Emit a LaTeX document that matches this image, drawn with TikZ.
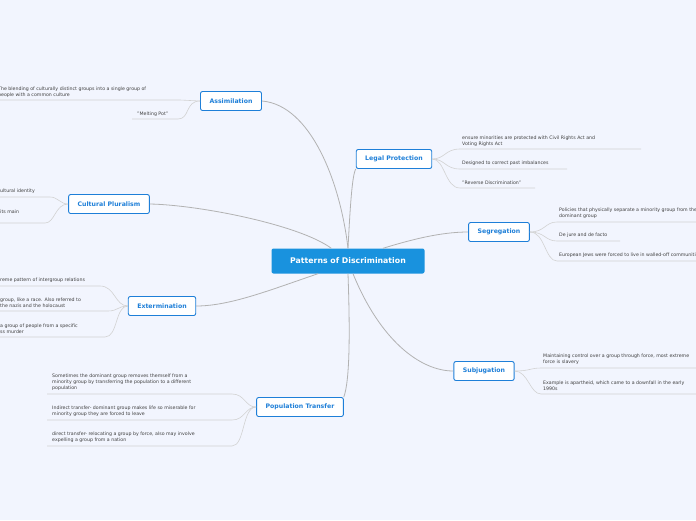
\documentclass[tikz,border=0pt]{standalone}
\usepackage{fontspec}
\setmainfont{DejaVu Sans}
\begin{document}
\begin{tikzpicture}[x=1pt,y=-1pt,
  mainbox/.style={draw=blue1,fill=white,rounded corners=2pt,line width=0.9pt,text=blue1,font=\fontsize{6.2}{7}\selectfont\bfseries,minimum height=19pt,inner xsep=9pt},
  leaf/.style={anchor=south west,inner sep=0pt,text=black!75,font=\fontsize{4.7}{6.4}\selectfont,align=left},
  con/.style={draw=gray!60,line width=0.8pt},
  br/.style={draw=gray!35,line width=0.6pt}]
\definecolor{blue1}{HTML}{1E7FD8}
\definecolor{bg}{HTML}{F2F5FE}
\fill[bg] (0,0) rectangle (696,520);
\useasboundingbox (0,0) rectangle (696,520);
\node[fill=blue1!85!cyan,rounded corners=2pt,text=white,font=\fontsize{7.8}{9}\selectfont\bfseries,minimum width=153pt,minimum height=25pt] (c) at (348,261) {Patterns of Discrimination};
\node[mainbox] (as) at (231,101) {Assimilation};
\node[mainbox] (lp) at (394,159) {Legal Protection};
\node[mainbox] (cp) at (109,204) {Cultural Pluralism};
\node[mainbox] (sg) at (499,232) {Segregation};
\node[mainbox] (ex) at (162,306) {Extermination};
\node[mainbox] (sj) at (484,371) {Subjugation};
\node[mainbox] (pt) at (300,407) {Population Transfer};
\draw[con] (c.north) .. controls (340,180) and (310,105) .. (as.east);
\draw[con] (c.north) .. controls (350,210) and (352,175) .. (lp.south west);
\draw[con] (c.north west) ++(60,0) .. controls (300,225) and (200,205) .. (cp.east);
\draw[con] (c.north) ++(35,0) .. controls (410,240) and (440,232) .. (sg.west);
\draw[con] (c.south) ++(-30,0) .. controls (270,290) and (230,306) .. (ex.east);
\draw[con] (c.south) ++(5,0) .. controls (380,340) and (420,371) .. (sj.west);
\draw[con] (c.south) .. controls (350,330) and (350,380) .. (pt.north east);
% Assimilation
\coordinate (a1) at (0,100); \coordinate (a2) at (132,119);
\draw[br] (as.west) .. controls (190,101) .. (180,100) -- (a1);
\draw[br] (as.west) .. controls (185,101) and (190,119) .. (178,119) -- (a2);
\node[leaf] (a1t) at (-2,98) {The blending of culturally distinct groups into a single group of\\people with a common culture};
\node[leaf] (a2t) at (137,117) {"Melting Pot"};
% Legal
\coordinate (l1) at (641,149); \coordinate (l2) at (567,169); \coordinate (l3) at (535,188);
\draw[br] (lp.east) .. controls (445,159) and (445,149) .. (460,149) -- (l1);
\draw[br] (lp.east) .. controls (445,159) and (445,169) .. (460,169) -- (l2);
\draw[br] (lp.east) .. controls (445,159) and (445,188) .. (460,188) -- (l3);
\node[leaf] at (462,147) {ensure minorities are protected with Civil Rights Act and\\Voting Rights Act};
\node[leaf] at (462,166) {Designed to correct past imbalances};
\node[leaf] at (462,185) {"Reverse Discrimination"};
% Segregation
\coordinate (s1) at (700,222); \coordinate (s2) at (620,241); \coordinate (s3) at (700,261);
\draw[br] (sg.east) .. controls (545,232) and (545,222) .. (557,222) -- (s1);
\draw[br] (sg.east) .. controls (545,232) and (545,241) .. (557,241) -- (s2);
\draw[br] (sg.east) .. controls (545,232) and (545,261) .. (557,261) -- (s3);
\node[leaf] at (559,219) {Policies that physically separate a minority group from the\\dominant group};
\node[leaf] at (559,238) {De jure and de facto};
\node[leaf] at (559,258) {European Jews were forced to live in walled-off communities};
% Cultural pluralism
\coordinate (p1) at (-2,197); \coordinate (p2) at (-2,223);
\draw[br] (cp.west) .. controls (60,204) and (58,197) .. (50,197) -- (p1);
\draw[br] (cp.west) .. controls (55,204) and (55,223) .. (45,223) -- (p2);
\node[leaf] at (0,194) {ultural identity};
\node[leaf] at (0,214) {its main};
% Extermination
\coordinate (e1) at (-2,286); \coordinate (e2) at (-2,311); \coordinate (e3) at (-2,337);
\draw[br] (ex.west) .. controls (115,306) and (115,286) .. (100,286) -- (e1);
\draw[br] (ex.west) .. controls (118,306) and (118,311) .. (108,311) -- (e2);
\draw[br] (ex.west) .. controls (115,306) and (118,337) .. (105,337) -- (e3);
\node[leaf] at (0,283) {reme pattern of intergroup relations};
\node[leaf] at (0,308) {group, like a race. Also referred to\\the nazis and the holocaust};
\node[leaf] at (0,334) {a group of people from a specific\\ss murder};
% Subjugation
\coordinate (j1) at (700,368); \coordinate (j2) at (700,394);
\draw[br] (sj.east) .. controls (530,371) and (530,368) .. (541,368) -- (j1);
\draw[br] (sj.east) .. controls (528,371) and (530,394) .. (541,394) -- (j2);
\node[leaf] at (543,365) {Maintaining control over a group through force, most extreme\\force is slavery};
\node[leaf] at (543,391) {Example is apartheid, which came to a downfall in the early\\1990s};
% Population transfer
\coordinate (t1) at (47,394); \coordinate (t2) at (47,420); \coordinate (t3) at (47,446);
\draw[br] (pt.west) .. controls (245,407) and (245,394) .. (232,394) -- (t1);
\draw[br] (pt.west) .. controls (245,407) and (245,420) .. (232,420) -- (t2);
\draw[br] (pt.west) .. controls (242,407) and (245,446) .. (232,446) -- (t3);
\node[leaf] at (52,391) {Sometimes the dominant group removes themself from a\\minority group by transferring the population to a different\\population};
\node[leaf] at (52,417) {Indirect transfer- dominant group makes life so miserable for\\minority group they are forced to leave};
\node[leaf] at (52,443) {direct transfer- relocating a group by force, also may involve\\expelling a group from a nation};
\end{tikzpicture}
\end{document}
